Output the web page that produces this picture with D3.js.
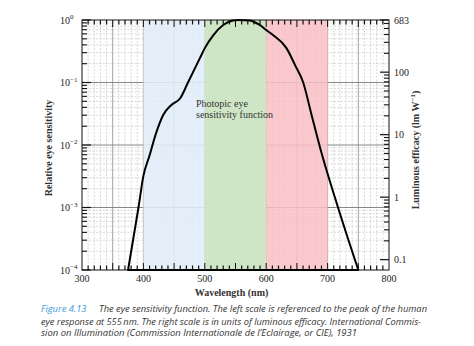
<!DOCTYPE html>
<html><head><meta charset="utf-8">
<script src="https://cdn.jsdelivr.net/npm/d3@7"></script>
<style>
body{margin:0;background:#fff;}
svg{display:block;}
</style></head>
<body>
<svg id="c" width="474" height="346"></svg>
<script>
// ---- data ----
const wavelength = [375, 392, 400, 410, 420, 432, 446, 460, 473, 492, 500, 514, 530, 546, 555, 573, 580, 590, 600, 611, 633, 647, 660, 674, 688, 717, 750];
const sensitivity = [1e-4, 1e-3, 0.0032, 0.0068, 0.0148, 0.030, 0.044, 0.056, 0.102, 0.245, 0.355, 0.575, 0.83, 0.985, 1.0, 0.98, 0.93, 0.83, 0.69, 0.575, 0.355, 0.19, 0.102, 0.030, 0.0089, 0.001, 1e-4];
const bandStart = [400, 500, 600];
const bandEnd = [500, 600, 700];
const xTickLabels = [300, 400, 500, 600, 700, 800];
const leftExponents = [0, -1, -2, -3, -4];
const rightTickLabels = ["683", "100", "10", "1", "0.1"];
const rightTickValues = [683, 100, 10, 1, 0.1];
const peakEfficacy = 683;

// ---- layout ----
const L = 82, R = 389, T = 20, B = 270;
const svg = d3.select("#c");
const x = d3.scaleLinear().domain([300, 800]).range([L, R]);
const y = d3.scaleLog().domain([1e-4, 1]).range([B, T]);
const yR = d3.scaleLog().domain([1e-4 * peakEfficacy, peakEfficacy]).range([B, T]);
const serif = "'Liberation Serif','DejaVu Serif',serif";

// grid
const g = svg.append("g");
d3.range(310, 800, 10).forEach(v => {
  const major = v % 50 === 0;
  g.append("line").attr("x1", x(v)).attr("x2", x(v)).attr("y1", T).attr("y2", B)
    .attr("stroke", major ? "#8a8a8a" : "#bdbdbd").attr("stroke-width", major ? 0.8 : 0.6)
    .attr("stroke-dasharray", major ? null : "2,1.5");
});
leftExponents.forEach(e => {
  const base = Math.pow(10, e);
  if (e < 0) {
    for (let m = 2; m <= 9; m++) {
      const v = base * m;
      g.append("line").attr("x1", L).attr("x2", R).attr("y1", y(v)).attr("y2", y(v))
        .attr("stroke", "#bdbdbd").attr("stroke-width", 0.6).attr("stroke-dasharray", "2,1.5");
    }
  }
  if (e < 0 && e > -4) {
    g.append("line").attr("x1", L).attr("x2", R).attr("y1", y(base)).attr("y2", y(base))
      .attr("stroke", "#7a7a7a").attr("stroke-width", 0.9);
  }
});

// bands
const bandColors = ["rgba(224,237,248,0.88)", "rgb(207,230,198)", "rgba(248,192,196,0.85)"];
bandStart.forEach((s, i) => {
  svg.append("rect").attr("x", x(s)).attr("y", T).attr("width", x(bandEnd[i]) - x(s)).attr("height", B - T)
    .attr("fill", bandColors[i]);
});

// frame
svg.append("rect").attr("x", L).attr("y", T).attr("width", R - L).attr("height", B - T)
  .attr("fill", "none").attr("stroke", "#111").attr("stroke-width", 1);

// top/bottom ticks (inward)
const tk = svg.append("g").attr("stroke", "#111");
d3.range(310, 800, 10).forEach(v => {
  const len = v % 50 === 0 ? 7 : 4.5;
  const w = v % 50 === 0 ? 1 : 1.2;
  tk.append("line").attr("x1", x(v)).attr("x2", x(v)).attr("y1", T).attr("y2", T + len).attr("stroke-width", w);
  tk.append("line").attr("x1", x(v)).attr("x2", x(v)).attr("y1", B).attr("y2", B - len).attr("stroke-width", w);
});
// left ticks
leftExponents.forEach(e => {
  const base = Math.pow(10, e);
  tk.append("line").attr("x1", L).attr("x2", L + 9).attr("y1", y(base)).attr("y2", y(base)).attr("stroke-width", 1.2);
  if (e < 0) for (let m = 2; m <= 9; m++) {
    const v = base * m;
    tk.append("line").attr("x1", L).attr("x2", L + 5).attr("y1", y(v)).attr("y2", y(v)).attr("stroke-width", 1.1);
  }
});
// right ticks
[0.1, 1, 10, 100].forEach(base => {
  tk.append("line").attr("x1", R).attr("x2", R - 9).attr("y1", yR(base)).attr("y2", yR(base)).attr("stroke-width", 1.2);
  for (let m = 2; m <= 9; m++) {
    const v = base * m;
    if (v > peakEfficacy) continue;
    tk.append("line").attr("x1", R).attr("x2", R - 5).attr("y1", yR(v)).attr("y2", yR(v)).attr("stroke-width", 1.1);
  }
});
tk.append("line").attr("x1", R).attr("x2", R - 9).attr("y1", yR(peakEfficacy)).attr("y2", yR(peakEfficacy)).attr("stroke-width", 1.2);

// curve
const pts = wavelength.map((w, i) => [x(w), y(sensitivity[i])]);
const line = d3.line().curve(d3.curveMonotoneX);
svg.append("path").attr("d", line(pts) + "Z").attr("fill", "none")
  .attr("stroke", "#000").attr("stroke-width", 2).attr("stroke-linejoin", "round");

// tick labels
const txt = svg.append("g").attr("font-family", serif).attr("fill", "#222");
xTickLabels.forEach(v => {
  txt.append("text").attr("x", x(v)).attr("y", B + 12).attr("text-anchor", "middle")
    .attr("font-size", 10).text(v);
});
leftExponents.forEach(e => {
  const t = txt.append("text").attr("x", L - 12).attr("y", y(Math.pow(10, e)) + 3.5)
    .attr("text-anchor", "end").attr("font-size", 10);
  t.append("tspan").text("10");
});
leftExponents.forEach(e => {
  txt.append("text").attr("x", L - 12).attr("y", y(Math.pow(10, e)) - 1)
    .attr("font-size", 7).text(e === 0 ? "0" : "\u2212" + (-e));
});
rightTickValues.forEach((v, i) => {
  txt.append("text").attr("x", R + 5).attr("y", yR(v) + 3.5).attr("font-size", 10).text(rightTickLabels[i]);
});

// axis titles
txt.append("text").attr("x", (L + R) / 2 - 4).attr("y", 296).attr("text-anchor", "middle")
  .attr("font-size", 10).attr("font-weight", "bold").attr("fill", "#333").text("Wavelength (nm)");
txt.append("text").attr("transform", `translate(52,${(T + B) / 2 + 3}) rotate(-90)`)
  .attr("text-anchor", "middle").attr("font-size", 10).attr("font-weight", "bold").attr("fill", "#333")
  .text("Relative eye sensitivity");
const rt = txt.append("text").attr("transform", `translate(419,${(T + B) / 2 + 5}) rotate(-90)`)
  .attr("text-anchor", "middle").attr("font-size", 10).attr("font-weight", "bold").attr("fill", "#333");
rt.append("tspan").text("Luminous efficacy (lm W");
rt.append("tspan").attr("font-size", 7).attr("dy", -4).text("\u22121");
rt.append("tspan").attr("dy", 4).text(")");

// annotation
txt.append("text").attr("x", 196).attr("y", 107).attr("font-size", 10).attr("fill", "#333").text("Photopic eye");
txt.append("text").attr("x", 196).attr("y", 118).attr("font-size", 10).attr("fill", "#333").text("sensitivity function");

// caption
const cap = svg.append("g").attr("font-family", "'Open Sans','Noto Sans',sans-serif").attr("font-style", "italic")
  .attr("font-size", 9.3).attr("fill", "#333");
cap.append("text").attr("x", 41).attr("y", 312).attr("fill", "#3a9ad9").text("Figure 4.13");
cap.append("text").attr("x", 99).attr("y", 312).attr("textLength", 328).attr("lengthAdjust", "spacingAndGlyphs")
  .text("The eye sensitivity function. The left scale is referenced to the peak of the human");
cap.append("text").attr("x", 41).attr("y", 324.5).attr("textLength", 380).attr("lengthAdjust", "spacingAndGlyphs")
  .text("eye response at 555\u2009nm. The right scale is in units of luminous efficacy. International Commis-");
cap.append("text").attr("x", 41).attr("y", 336).attr("textLength", 316).attr("lengthAdjust", "spacingAndGlyphs")
  .text("sion on Illumination (Commission Internationale de l\u2019Eclairage, or CIE), 1931");
</script>
</body></html>
